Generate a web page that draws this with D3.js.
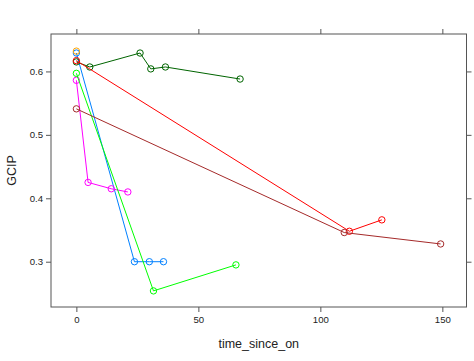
<!DOCTYPE html>
<html>
<head>
<meta charset="utf-8">
<script src="https://cdn.jsdelivr.net/npm/d3@7"></script>
<style>
  html, body { margin: 0; padding: 0; background: #fff; }
  svg { display: block; }
  text { font-family: "Liberation Sans", Arial, Helvetica, sans-serif; fill: #222; }
</style>
</head>
<body>
<svg id="chart" width="474" height="361"></svg>
<script>
// ---- data ----
const xTicks = [0, 50, 100, 150];
const yTicks = [0.3, 0.4, 0.5, 0.6];
const xLabel = "time_since_on";
const yLabel = "GCIP";

const blueX = [0, 23.8, 29.9, 35.7];
const blueY = [0.629, 0.300, 0.300, 0.300];
const magentaX = [0, 4.8, 14.3, 21.1];
const magentaY = [0.586, 0.425, 0.415, 0.410];
const darkgreenX = [0, 5.5, 26.1, 30.5, 36.5, 67.1];
const darkgreenY = [0.615, 0.607, 0.629, 0.604, 0.607, 0.588];
const redX = [0, 111.9, 125.2];
const redY = [0.617, 0.348, 0.366];
const orangeX = [0];
const orangeY = [0.632];
const greenX = [0, 31.6, 65.4];
const greenY = [0.597, 0.254, 0.295];
const brownX = [0, 109.8, 149.3];
const brownY = [0.541, 0.346, 0.328];

const series = [
  { name: "a", color: "#0080ff", x: blueX, y: blueY },
  { name: "b", color: "#ff00ff", x: magentaX, y: magentaY },
  { name: "c", color: "darkgreen", x: darkgreenX, y: darkgreenY },
  { name: "d", color: "#ff0000", x: redX, y: redY },
  { name: "e", color: "orange", x: orangeX, y: orangeY },
  { name: "f", color: "#00ff00", x: greenX, y: greenY },
  { name: "g", color: "brown", x: brownX, y: brownY }
];

// ---- layout ----
const L = 51, R = 466.5, T = 34, B = 307;
const svg = d3.select("#chart");

const x = d3.scaleLinear().domain([-10.4, 159.9]).range([L, R]);
const y = d3.scaleLinear().domain([0.2286, 0.659]).range([B, T]);

// box
svg.append("rect")
  .attr("x", L).attr("y", T).attr("width", R - L).attr("height", B - T)
  .attr("fill", "none").attr("stroke", "#555").attr("stroke-width", 1);

// axes (lattice style: ticks on all sides, labels bottom/left)
const fmtY = d3.format(".1f");
const axB = svg.append("g").attr("transform", `translate(0,${B})`)
  .call(d3.axisBottom(x).tickValues(xTicks).tickSize(5).tickPadding(4).tickFormat(d3.format("d")));
const axT = svg.append("g").attr("transform", `translate(0,${T})`)
  .call(d3.axisTop(x).tickValues(xTicks).tickSize(5).tickFormat(""));
const axL = svg.append("g").attr("transform", `translate(${L},0)`)
  .call(d3.axisLeft(y).tickValues(yTicks).tickSize(5).tickPadding(3).tickFormat(fmtY));
const axR = svg.append("g").attr("transform", `translate(${R},0)`)
  .call(d3.axisRight(y).tickValues(yTicks).tickSize(5).tickFormat(""));
[axB, axT, axL, axR].forEach(g => {
  g.select(".domain").remove();
  g.selectAll("line").attr("stroke", "#555");
  g.selectAll("text").attr("font-size", 9.6).attr("fill", "#333")
    .attr("font-family", "'Liberation Sans', Arial, sans-serif");
});

// axis titles
svg.append("text").attr("x", (L + R) / 2).attr("y", 348)
  .attr("text-anchor", "middle").attr("font-size", 12.5).text(xLabel);
svg.append("text")
  .attr("transform", `translate(15.5,${(T + B) / 2}) rotate(-90)`)
  .attr("text-anchor", "middle").attr("font-size", 12.5).text(yLabel);

// series
const line = d3.line().x(d => x(d[0])).y(d => y(d[1]));
const plot = svg.append("g");
series.forEach(s => {
  const pts = s.x.map((v, i) => [v, s.y[i]]);
  plot.append("path").datum(pts)
    .attr("d", line).attr("fill", "none")
    .attr("stroke", s.color).attr("stroke-width", 1);
  plot.selectAll(null).data(pts).enter().append("circle")
    .attr("cx", d => x(d[0])).attr("cy", d => y(d[1])).attr("r", 3.2)
    .attr("fill", "none").attr("stroke", s.color).attr("stroke-width", 1);
});
</script>
</body>
</html>
